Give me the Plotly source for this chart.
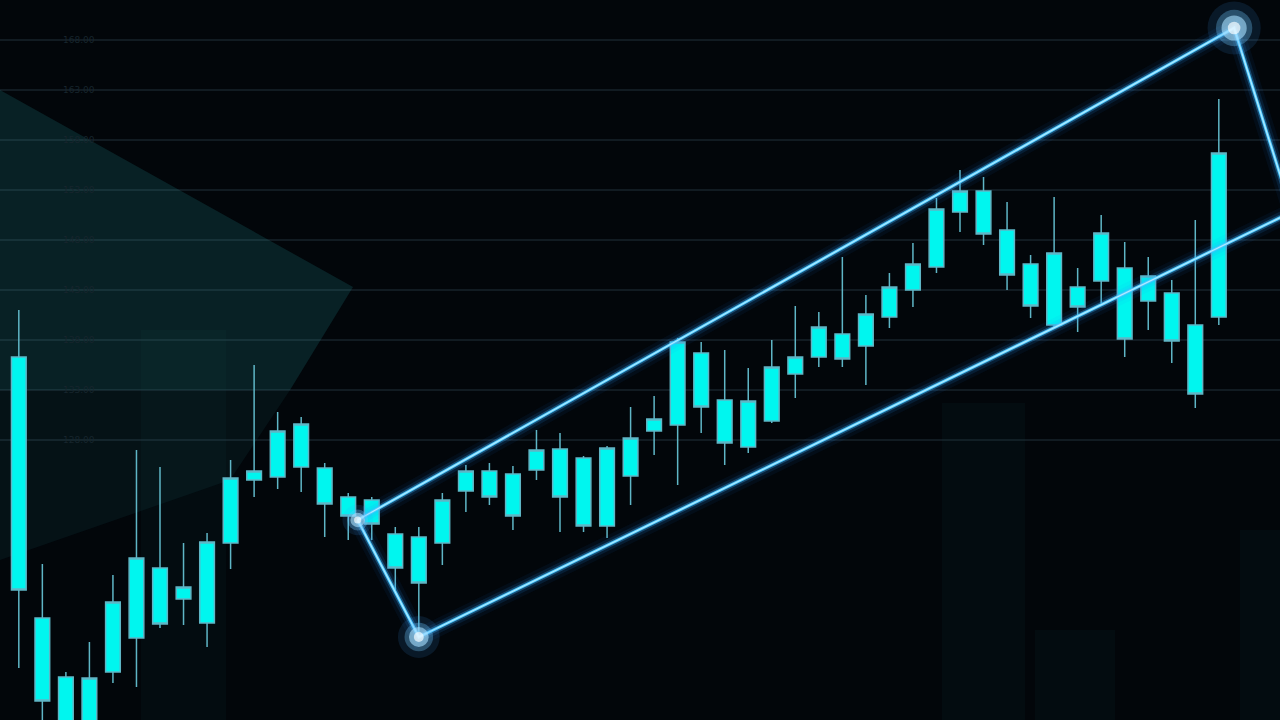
import plotly.graph_objects as go

# ---- data (price units) ----
idx = list(range(52))
opens  = [136.3,110.2,104.3, 98.0,104.8,108.2,115.2,112.1,109.7,117.7,
          124.0,124.3,125.3,125.2,122.3,122.0,118.6,118.3,117.7,122.9,
          124.9,124.6,125.0,127.1,126.2,119.4,124.4,128.9,129.5,136.7,
          132.0,127.3,129.9,134.6,136.3,138.6,137.4,140.3,143.0,145.3,
          150.8,152.9,149.0,145.6,139.5,143.3,143.9,145.2,141.9,142.7,
          139.5,140.3]
highs  = [141.0,115.6,104.8,107.8,114.5,127.0,125.3,117.7,118.7,126.0,
          135.5,130.8,130.3,125.7,122.7,122.3,119.3,119.3,122.7,125.5,
          125.7,125.4,129.0,128.7,126.4,127.4,131.3,132.4,138.2,137.8,
          137.0,135.2,138.0,141.4,140.8,146.3,142.5,144.7,147.7,152.2,
          155.0,154.3,151.8,146.5,152.3,145.2,150.5,147.8,146.3,144.0,
          150.0,162.1]
lows   = [105.2, 98.5, 96.0, 96.5,103.7,103.3,109.2,109.5,107.3,115.1,
          122.3,123.1,122.8,118.3,118.0,118.0,113.0,108.8,115.5,120.8,
          121.5,119.0,124.0,118.8,118.8,118.2,121.5,126.5,123.5,128.7,
          125.5,126.7,129.7,132.2,135.3,135.3,133.5,139.2,141.3,144.7,
          148.8,147.5,143.0,140.2,139.2,138.8,141.7,136.3,139.0,135.7,
          131.2,139.5]
closes = [113.0,101.9, 97.5,104.2,111.8,116.2,109.6,113.3,117.8,124.2,
          124.9,128.9,129.6,121.6,120.4,119.6,115.2,113.7,122.0,124.9,
          122.3,120.4,127.0,122.3,119.4,127.2,128.2,130.1,137.8,131.3,
          127.7,131.9,135.3,136.3,139.3,136.1,140.6,143.3,145.6,151.1,
          152.9,148.6,144.5,141.4,146.7,141.3,148.7,138.1,144.4,137.9,
          132.6,156.7]

# channel corners (index, price): left, top-right, right, bottom
channel_x = [14.4, 51.65, 54.1, 17.0, 14.4]
channel_y = [120.0, 169.2, 150.8, 108.3, 120.0]
node_x = [14.4, 17.0, 51.65]
node_y = [120.0, 108.3, 169.2]
node_size = [16, 22, 28]

# faint background columns
ghost_x = [7.0, 41.0, 44.9, 53.0]
ghost_top = [139.0, 131.7, 109.0, 119.0]
ghost_w = [3.6, 3.5, 3.4, 2.2]

tick_vals = [128, 133, 138, 143, 148, 153, 158, 163, 168]
tick_text = [f"{v:.2f}" for v in tick_vals]

BG = "#02060a"

fig = go.Figure()

fig.add_trace(go.Bar(
    x=ghost_x, y=[t - 100 for t in ghost_top], base=100, width=ghost_w,
    marker=dict(color="rgba(25,75,80,0.09)", line=dict(width=0)),
    hoverinfo="skip", showlegend=False))

fig.add_trace(go.Candlestick(
    x=idx, open=opens, high=highs, low=lows, close=closes,
    increasing=dict(line=dict(color="#5fb6c6", width=1.5), fillcolor="#00f6ef"),
    decreasing=dict(line=dict(color="#5fb6c6", width=1.5), fillcolor="#00f6ef"),
    whiskerwidth=0, showlegend=False, name="price"))

# glowing channel
for w, c in [(18, "rgba(30,140,255,0.06)"), (11, "rgba(40,160,255,0.12)"),
             (6, "rgba(60,180,255,0.30)"), (3, "#4ccaff"), (1.2, "rgba(190,238,255,0.9)")]:
    fig.add_trace(go.Scatter(x=channel_x, y=channel_y, mode="lines",
                             line=dict(color=c, width=w), hoverinfo="skip",
                             showlegend=False))

for scale, c in [(1.9, "rgba(60,160,255,0.18)"), (1.3, "rgba(110,200,255,0.45)"),
                 (0.9, "rgba(170,225,255,0.85)"), (0.45, "rgba(245,252,255,1)")]:
    fig.add_trace(go.Scatter(x=node_x, y=node_y, mode="markers",
                             marker=dict(size=[s * scale for s in node_size], color=c,
                                         line=dict(width=0)),
                             hoverinfo="skip", showlegend=False))

W, H = 1280, 720
def P(px, py):
    return px / W, 1 - py / H

def path(pts):
    return "M " + " L ".join(f"{P(x, y)[0]:.4f},{P(x, y)[1]:.4f}" for x, y in pts) + " Z"

shapes = [
    dict(type="path", xref="paper", yref="paper", layer="below",
         path=path([(0, 90), (353, 287), (290, 390), (0, 390)]),
         fillcolor="rgba(14,60,64,0.50)", line=dict(width=0)),
    dict(type="path", xref="paper", yref="paper", layer="below",
         path=path([(0, 390), (290, 390), (230, 480), (0, 560)]),
         fillcolor="rgba(12,48,52,0.30)", line=dict(width=0)),
]

fig.update_layout(
    width=W, height=H,
    margin=dict(l=0, r=0, t=0, b=0),
    paper_bgcolor=BG, plot_bgcolor=BG,
    shapes=shapes,
    bargap=0,
    boxgap=0.2, boxgroupgap=0.22,
    xaxis=dict(range=[-0.8, 53.6], showgrid=False, zeroline=False,
               showticklabels=False, rangeslider=dict(visible=False), fixedrange=True),
    yaxis=dict(range=[100, 172], tickvals=tick_vals, ticktext=tick_text,
               showgrid=True, gridcolor="rgba(90,125,145,0.18)", gridwidth=1.5,
               zeroline=False, ticklabelposition="inside", ticks="",
               tickfont=dict(color="#17252d", size=9, family="DejaVu Sans"),
               ticklabelstandoff=60, fixedrange=True),
    showlegend=False,
)

fig.write_html("out.html", config={"displayModeBar": False},
               post_script="document.body.style.margin='0';"
                           "document.body.style.background='#02060a';")
